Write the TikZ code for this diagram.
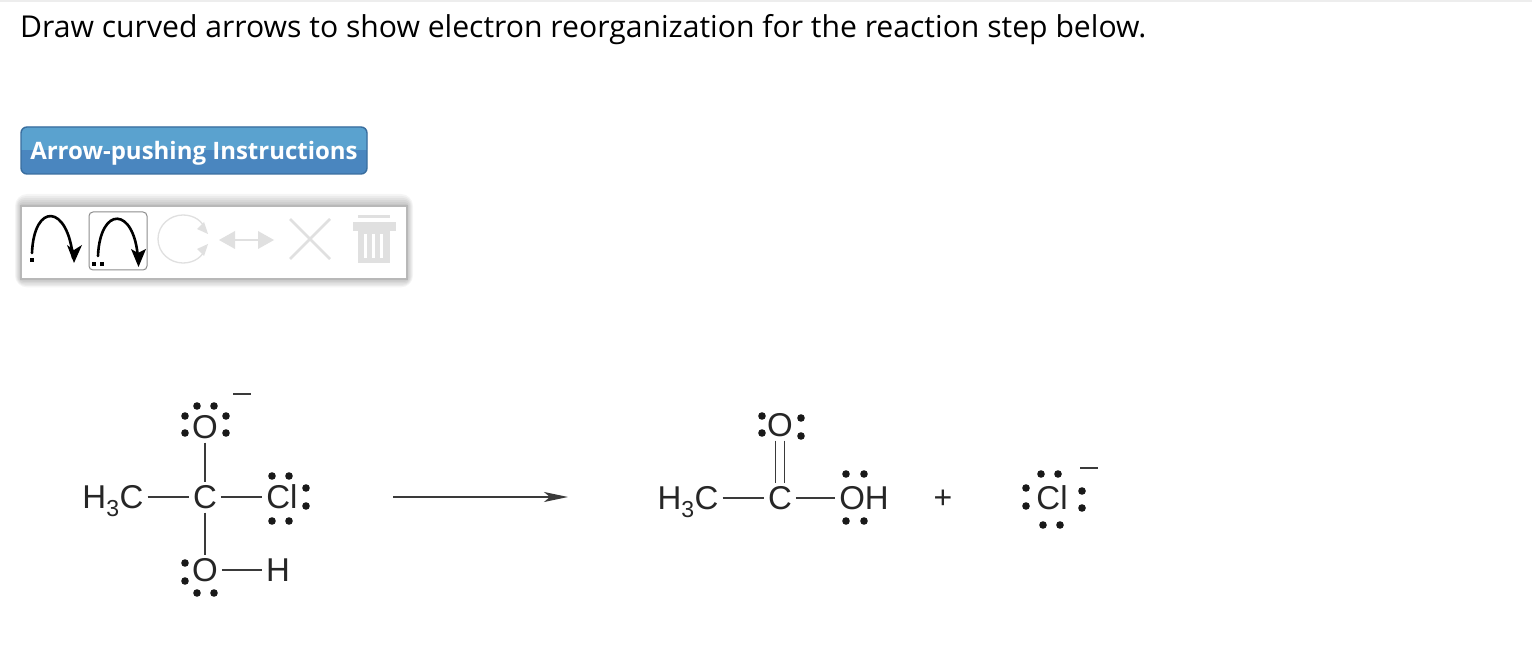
\documentclass[tikz,border=0pt]{standalone}
\usepackage{fontspec}
\setmainfont{Liberation Sans}
\newfontfamily\uifont{Open Sans}
\usetikzlibrary{arrows.meta}
\definecolor{btnTop}{HTML}{5AA2CF}
\definecolor{btnBot}{HTML}{4A86BF}
\definecolor{btnEdge}{HTML}{3A6E9F}
\definecolor{ghost}{HTML}{E0E0E0}
\definecolor{bondc}{HTML}{3A3A3A}
\tikzset{
  x=1pt,y=-1pt,
  atom/.style={inner sep=0pt,outer sep=4pt,font=\fontsize{33}{33}\selectfont,text=black!85,text height=23pt,text depth=0pt},
  bond/.style={draw=bondc,line width=1.9pt},
  lp/.style={fill=black!90,draw=none},
  ghostline/.style={draw=ghost,line width=2pt},
  iconarrow/.style={draw=black,line width=2.6pt,line cap=round},
}
\newcommand{\lpdots}[1]{\foreach \p in {#1}{\fill[lp] \p circle (3.8pt);}}
\begin{document}
\begin{tikzpicture}
\useasboundingbox (0,0) rectangle (1532,668);
\fill[white] (0,0) rectangle (1532,668);
\fill[black!7] (0,0) rectangle (1532,2);
\node[anchor=base west,inner sep=0pt,font=\uifont\fontsize{30.14}{30}\selectfont] (title) at (20,38) {Draw curved arrows to show electron reorganization for the reaction step below.};

% button
\fill[btnBot,rounded corners=6pt] (21,127) rectangle (367,174);
\fill[btnTop,rounded corners=6pt] (21,127) rectangle (367,155);
\fill[btnTop] (21,147) rectangle (367,150);
\fill[btnBot] (21,150) rectangle (367,165);
\draw[btnEdge,line width=1.4pt,rounded corners=6pt] (21,127) rectangle (367,174);
\node[anchor=base,inner sep=0pt,text=white,font=\uifont\bfseries\fontsize{24}{24}\selectfont] (btn) at (194,160) {Arrow-pushing Instructions};

% toolbar
\foreach \g in {12,10,8,6,4,2}{\fill[black,opacity=0.04,rounded corners=\g pt] (21-\g/2,206-\g) rectangle (407+\g/2,279+\g*0.7);}
\draw[fill=white,draw=black!28,line width=2pt] (21,206) rectangle (407,279);
\draw[draw=black!45,line width=1pt,rounded corners=4pt] (89,212) rectangle (147,270);
\draw[iconarrow] (32,253) .. controls (34,202) and (68,204) .. (73,258);
\fill[black] (67,245) -- (74,250) -- (82,245) -- (74,263) -- cycle;
\fill[black] (30,258.5) rectangle (34,262.5);
\draw[iconarrow] (98,256) .. controls (100,206) and (134,206) .. (138,258);
\fill[black] (131,249) -- (138,253) -- (146,249) -- (138.5,267) -- cycle;
\fill[black] (92,262) rectangle (96,266);
\fill[black] (100,262) rectangle (104,266);
% ghost icons
\draw[ghostline,line width=1.3pt] (158,239) .. controls (158,225) and (170,215) .. (183,215) .. controls (194,215) and (203,221) .. (206,231);
\draw[ghostline,line width=1.3pt] (158,239) .. controls (158,253) and (170,263) .. (183,263) .. controls (194,263) and (203,257) .. (206,247);
\fill[ghost] (208,234) -- (197,229) -- (204,222) -- cycle;
\fill[ghost] (208,244) -- (197,249) -- (204,256) -- cycle;
\draw[ghostline,line width=2.6pt] (224,240) -- (270,240);
\fill[ghost] (219,240) -- (235,231) -- (235,249) -- cycle;
\fill[ghost] (274,240) -- (258,231) -- (258,249) -- cycle;
\draw[ghostline,line width=2.8pt] (290,219) -- (330,259);
\draw[ghostline,line width=2.8pt] (330,219) -- (290,259);
\fill[ghost] (358,215) rectangle (390,218);
\fill[ghost] (353,222) rectangle (396,231);
\fill[ghost] (358,231) rectangle (390,263);
\foreach \bx in {364,372,380}{\fill[white] (\bx,234) rectangle (\bx+3,258);}

% reactant
\node[atom] (lC) at (205,497) {C};
\node[atom] (lCH) at (113,497) {H\textsubscript{3}C};
\node[atom] (lO) at (205,427) {O};
\node[atom] (lCl) at (282,497) {Cl};
\node[atom] (lOH) at (205,570) {O};
\node[atom] (lH) at (278,570) {H};
\draw[bond] (lCH) -- (lC);
\draw[bond] (lC) -- (lCl);
\draw[bond] (lO) -- (lC);
\draw[bond] (lC) -- (lOH);
\draw[bond] (lOH) -- (lH);
\coordinate (lm1) at (233,394);
\coordinate (lm2) at (251,394);
\draw[bond] (lm1) -- (lm2);
\lpdots{(197,406),(214,406),(185,416),(185,433),(226,416),(226,433),
        (272,476),(289,476),(272,521),(289,521),(306,488),(306,506),
        (185,563),(185,581),(197,593),(214,593)}

% reaction arrow
\coordinate (rxA) at (393,497);
\coordinate (rxB) at (568,497);
\draw[draw=bondc,line width=1.6pt,-{Stealth[length=24pt,width=10pt,inset=6pt]}] (rxA) -- (rxB);

% product
\node[atom] (rC) at (780,498) {C};
\node[atom] (rCH) at (688,498) {H\textsubscript{3}C};
\node[atom] (rO) at (780,425) {O};
\node[atom] (rOH) at (864,498) {OH};
\draw[bond] (rCH) -- (rC);
\draw[bond] (rC) -- (rOH);
\draw[bond] ([xshift=-4.5pt]rO.south) -- ([xshift=-4.5pt]rC.north);
\draw[bond] ([xshift=4.5pt]rO.south) -- ([xshift=4.5pt]rC.north);
\node[inner sep=0pt,text=black!85,font=\fontsize{32}{32}\selectfont] (plus) at (943,499) {+};
\node[atom] (rCl) at (1052,498) {Cl};
\coordinate (rm1) at (1080,468);
\coordinate (rm2) at (1098,468);
\draw[bond] (rm1) -- (rm2);
\lpdots{(762,416),(762,433),(801,418),(801,436),
        (846,474),(864,474),(846,521),(864,521),
        (1041,474),(1058,474),(1026,488),(1026,506),
        (1082,491),(1082,508),(1043,525),(1060,525)}
\end{tikzpicture}
\end{document}
